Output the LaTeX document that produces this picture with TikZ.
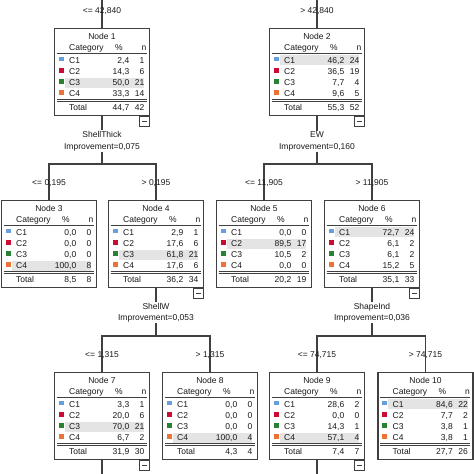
\documentclass[tikz,border=0pt]{standalone}
\usepackage{fontspec}
\setmainfont{Liberation Sans}
\definecolor{cA}{RGB}{104,158,218}
\definecolor{cB}{RGB}{204,10,52}
\definecolor{cC}{RGB}{40,130,50}
\definecolor{cD}{RGB}{238,114,52}
\definecolor{hlgrey}{RGB}{228,228,228}
\definecolor{ink}{RGB}{64,64,64}
\definecolor{txt}{RGB}{25,25,25}
\tikzset{
  treebox/.style={draw=ink, line width=1.1pt, fill=white, rectangle, minimum width=95pt, minimum height=87pt, inner sep=0pt, anchor=north},
  tt/.style={inner sep=0pt, font=\fontsize{8.5}{10}\selectfont, text=txt},
  conn/.style={draw=ink, line width=1.3pt},
  rulethick/.style={draw=ink, line width=1.1pt},
  rulethin/.style={draw=ink, line width=0.7pt},
  splitlab/.style={fill=white, align=center, inner sep=1pt, font=\fontsize{8.5}{11.5}\selectfont, text=txt, anchor=base},
  threshlab/.style={tt, anchor=base},
  minusframe/.style={draw=ink, line width=0.9pt, fill=white},
}
\newcommand\mkbox[5]{% name, cx, top, title, highlighted row
  \node[treebox] (#1) at (#2,#3) {};
  \pgfmathsetmacro\hbt{-(35+11.3*(#5-1))+7.7}%
  \pgfmathsetmacro\hbb{-(35+11.3*(#5-1))-2.3}%
  \fill[hlgrey] ([xshift=11pt,yshift=\hbt pt]#1.north west) rectangle ([xshift=90.5pt,yshift=\hbb pt]#1.north west);
  \node[tt, anchor=base] at ([yshift=-11.5pt]#1.north) {#4};
  \node[tt, anchor=base west] at ([xshift=15pt,yshift=-22.5pt]#1.north west) {Category};
  \node[tt, anchor=base] at ([xshift=65pt,yshift=-22.5pt]#1.north west) {\%};
  \node[tt, anchor=base east] at ([xshift=92.5pt,yshift=-22.5pt]#1.north west) {n};
  \draw[rulethick] ([xshift=2.7pt,yshift=-25.5pt]#1.north west) -- ([xshift=92.7pt,yshift=-25.5pt]#1.north west);
  \draw[rulethin] ([xshift=2.7pt,yshift=-71pt]#1.north west) -- ([xshift=92.7pt,yshift=-71pt]#1.north west);
  \draw[rulethin] ([xshift=2.7pt,yshift=-73pt]#1.north west) -- ([xshift=92.7pt,yshift=-73pt]#1.north west);
}
\newcommand\mkrow[6]{% name, k, colour, label, pct, n
  \pgfmathsetmacro\rbase{-(35+11.3*(#2-1))}%
  \pgfmathsetmacro\rtop{\rbase+6.5}%
  \pgfmathsetmacro\rbot{\rbase+1.7}%
  \fill[#3] ([xshift=5pt,yshift=\rtop pt]#1.north west) rectangle ([xshift=9.8pt,yshift=\rbot pt]#1.north west);
  \node[tt, anchor=base west] at ([xshift=15pt,yshift=\rbase pt]#1.north west) {#4};
  \node[tt, anchor=base east] at ([xshift=75.5pt,yshift=\rbase pt]#1.north west) {#5};
  \node[tt, anchor=base east] at ([xshift=90.5pt,yshift=\rbase pt]#1.north west) {#6};
}
\newcommand\mkrows[9]{%
  \mkrow{#1}{1}{cA}{C1}{#2}{#3}%
  \mkrow{#1}{2}{cB}{C2}{#4}{#5}%
  \mkrow{#1}{3}{cC}{C3}{#6}{#7}%
  \mkrow{#1}{4}{cD}{C4}{#8}{#9}%
}
\newcommand\mktot[3]{%
  \node[tt, anchor=base west] at ([xshift=15pt,yshift=-82pt]#1.north west) {Total};
  \node[tt, anchor=base east] at ([xshift=75.5pt,yshift=-82pt]#1.north west) {#2};
  \node[tt, anchor=base east] at ([xshift=90.5pt,yshift=-82pt]#1.north west) {#3};
}
\newcommand\mkminus[1]{%
  \draw[minusframe] ([xshift=-10.5pt]#1.south east) rectangle ([xshift=-0.5pt,yshift=-10pt]#1.south east);
  \draw[ink, line width=0.9pt] ([xshift=-8pt,yshift=-5pt]#1.south east) -- ([xshift=-3pt,yshift=-5pt]#1.south east);
}
\begin{document}
\begin{tikzpicture}[x=1pt,y=-1pt]
\useasboundingbox (0,0) rectangle (474,474);
% ---- boxes
\mkbox{n1}{102}{28}{Node 1}{3}
\mkrows{n1}{2,4}{1}{14,3}{6}{50,0}{21}{33,3}{14}
\mktot{n1}{44,7}{42}
\mkbox{n2}{317}{28}{Node 2}{1}
\mkrows{n2}{46,2}{24}{36,5}{19}{7,7}{4}{9,6}{5}
\mktot{n2}{55,3}{52}
\mkbox{n3}{49}{200}{Node 3}{4}
\mkrows{n3}{0,0}{0}{0,0}{0}{0,0}{0}{100,0}{8}
\mktot{n3}{8,5}{8}
\mkbox{n4}{156}{200}{Node 4}{3}
\mkrows{n4}{2,9}{1}{17,6}{6}{61,8}{21}{17,6}{6}
\mktot{n4}{36,2}{34}
\mkbox{n5}{264}{200}{Node 5}{2}
\mkrows{n5}{0,0}{0}{89,5}{17}{10,5}{2}{0,0}{0}
\mktot{n5}{20,2}{19}
\mkbox{n6}{372}{200}{Node 6}{1}
\mkrows{n6}{72,7}{24}{6,1}{2}{6,1}{2}{15,2}{5}
\mktot{n6}{35,1}{33}
\mkbox{n7}{102}{372}{Node 7}{3}
\mkrows{n7}{3,3}{1}{20,0}{6}{70,0}{21}{6,7}{2}
\mktot{n7}{31,9}{30}
\mkbox{n8}{210}{372}{Node 8}{4}
\mkrows{n8}{0,0}{0}{0,0}{0}{0,0}{0}{100,0}{4}
\mktot{n8}{4,3}{4}
\mkbox{n9}{317}{372}{Node 9}{4}
\mkrows{n9}{28,6}{2}{0,0}{0}{14,3}{1}{57,1}{4}
\mktot{n9}{7,4}{7}
\mkbox{n10}{425.5}{372}{Node 10}{1}
\mkrows{n10}{84,6}{22}{7,7}{2}{3,8}{1}{3,8}{1}
\mktot{n10}{27,7}{26}
% ---- connectors
\coordinate (t1) at (102,0);
\coordinate (t2) at (317,0);
\coordinate (e7) at (102,474);
\coordinate (e9) at (317,474);
\coordinate (b1) at ([yshift=-48pt]n1.south);
\coordinate (b2) at ([yshift=-48pt]n2.south);
\coordinate (b4) at ([yshift=-48pt]n4.south);
\coordinate (b6) at ([yshift=-48pt]n6.south);
\draw[conn] (t1) -- (n1.north);
\draw[conn] (t2) -- (n2.north);
\draw[conn] (n1.south) -- (b1);
\draw[conn] (n3.north) -- (n3.north |- b1) -- (n4.north |- b1) -- (n4.north);
\draw[conn] (n2.south) -- (b2);
\draw[conn] (n5.north) -- (n5.north |- b2) -- (n6.north |- b2) -- (n6.north);
\draw[conn] (n4.south) -- (b4);
\draw[conn] (n7.north) -- (n7.north |- b4) -- (n8.north |- b4) -- (n8.north);
\draw[conn] (n6.south) -- (b6);
\draw[conn] (n9.north) -- (n9.north |- b6) -- (n10.north |- b6) -- (n10.north);
\draw[conn] (n7.south) -- (e7);
\draw[conn] (n9.south) -- (e9);
% ---- minus boxes
\mkminus{n1}
\mkminus{n2}
\mkminus{n4}
\mkminus{n6}
\mkminus{n7}
\mkminus{n9}
% ---- split labels (base = baseline of last line)
\node[splitlab] (s1) at ([yshift=-33pt]n1.south) {ShellThick\\Improvement=0,075};
\node[splitlab] (s2) at ([yshift=-33pt]n2.south) {EW\\Improvement=0,160};
\node[splitlab] (s4) at ([yshift=-32.5pt]n4.south) {ShellW\\Improvement=0,053};
\node[splitlab] (s6) at ([yshift=-32.5pt]n6.south) {ShapeInd\\Improvement=0,036};
% ---- threshold labels
\node[threshlab] (l1) at ([yshift=15pt]n1.north) {<= 42,840};
\node[threshlab] (l2) at ([yshift=15pt]n2.north) {> 42,840};
\node[threshlab] (l3) at ([yshift=15pt]n3.north) {<= 0,195};
\node[threshlab] (l4) at ([yshift=15pt]n4.north) {> 0,195};
\node[threshlab] (l5) at ([yshift=15pt]n5.north) {<= 11,905};
\node[threshlab] (l6) at ([yshift=15pt]n6.north) {> 11,905};
\node[threshlab] (l7) at ([yshift=15pt]n7.north) {<= 1,315};
\node[threshlab] (l8) at ([yshift=15pt]n8.north) {> 1,315};
\node[threshlab] (l9) at ([yshift=15pt]n9.north) {<= 74,715};
\node[threshlab] (l10) at ([yshift=15pt]n10.north) {> 74,715};
\end{tikzpicture}
\end{document}
